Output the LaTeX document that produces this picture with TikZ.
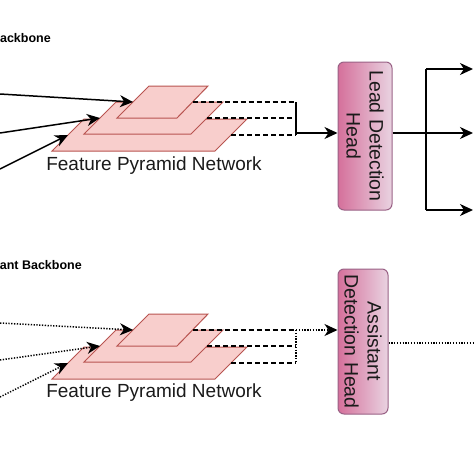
\documentclass[tikz,border=0pt]{standalone}
\usepackage{fontspec}
\setmainfont{Liberation Sans}
\usetikzlibrary{arrows.meta}
\definecolor{pyrfill}{HTML}{F8CECC}
\definecolor{pyrline}{HTML}{B85450}
\definecolor{headlight}{HTML}{E9D3E1}
\definecolor{headdark}{HTML}{D5709B}
\definecolor{headline}{HTML}{996185}
\definecolor{txt}{HTML}{1A1A1A}
\begin{document}
\begin{tikzpicture}[x=1pt,y=-1pt,
  layer/.style={fill=pyrfill, draw=pyrline, line width=1pt, line join=miter},
  link/.style={line width=1.5pt, draw=black},
  arr/.style={link, -{Stealth[length=13pt,width=12pt,inset=4pt]}},
  dashlink/.style={link, dash pattern=on 5pt off 3pt},
  dotlink/.style={link, dash pattern=on 1.3pt off 1.5pt},
  dotarr/.style={dotlink, -{Stealth[length=13pt,width=12pt,inset=4pt]}},
  headbox/.style={draw=headline, line width=1pt, rounded corners=6pt, rotate=-90,
    left color=headdark, right color=headlight, align=center,
    font=\fontsize{19.5}{23}\selectfont, text=txt, inner sep=0pt},
  fpnlabel/.style={font=\fontsize{19}{23}\selectfont, text=txt, inner sep=0pt},
  bbtitle/.style={font=\fontsize{12.5}{15}\selectfont\bfseries, text=black, inner sep=0pt, anchor=east}
]
\useasboundingbox (0,0) rectangle (474,474);

% ---------------- top section ----------------
\node[bbtitle] (bbA) at (51,38) {ackbone};
\draw[layer] (52,151) -- (215,151) -- (247,119) -- (84,119) -- cycle;
\draw[layer] (84,134) -- (191,134) -- (223,102) -- (116,102) -- cycle;
\draw[layer] (117,118) -- (177,118) -- (208,86) -- (149,86) -- cycle;
\coordinate (aL1) at (133,102);
\coordinate (aL2) at (100,118);
\coordinate (aL3) at (68,135);
\coordinate (aR1) at (192.5,102);
\coordinate (aR2) at (207,118);
\coordinate (aR3) at (231,135);
\coordinate (aJ1) at (296,102);
\coordinate (aJ2) at (296,118);
\coordinate (aJ3) at (296,135);
\coordinate (aJ) at (296,133);
\coordinate (aT1) at (0,94);
\coordinate (aT2) at (0,133);
\coordinate (aT3) at (0,169);
\node[fpnlabel] (fpnA) at (154,166) {Feature Pyramid Network};

\draw[dashlink] (aR1) -- (aJ1);
\draw[dashlink] (aR2) -- (aJ2);
\draw[dashlink] (aR3) -- (aJ3);
\draw[link] (aJ1) -- (aJ3);

\draw[arr] (aT1) -- (aL1);
\draw[arr] (aT2) -- (aL2);
\draw[arr] (aT3) -- (aL3);

\node[headbox, minimum width=148pt, minimum height=54pt] (lead) at (365,136) {Lead Detection\\Head};
\draw[arr] (aJ) -- (aJ -| lead.south);

\coordinate (oS) at (426,133);
\coordinate (oT) at (426,69);
\coordinate (oB) at (426,210);
\coordinate (eT) at (473,69);
\coordinate (eM) at (473,133);
\coordinate (eB) at (473,210);
\draw[link] (oS -| lead.north) -- (oS);
\draw[arr] (oS) -- (eM);
\draw[link] (oT) -- (oB);
\draw[arr] (oT) -- (eT);
\draw[arr] (oB) -- (eB);

% ---------------- bottom section ----------------
\node[bbtitle] (bbB) at (82,265) {ant Backbone};
\draw[layer] (52,379) -- (215,379) -- (247,347) -- (84,347) -- cycle;
\draw[layer] (84,362) -- (191,362) -- (223,330) -- (116,330) -- cycle;
\draw[layer] (117,346) -- (177,346) -- (208,314) -- (149,314) -- cycle;
\coordinate (bL1) at (133,330);
\coordinate (bL2) at (100,346);
\coordinate (bL3) at (68,363);
\coordinate (bR1) at (192.5,330);
\coordinate (bR2) at (207,346);
\coordinate (bR3) at (231,363);
\coordinate (bJ1) at (296,330);
\coordinate (bJ2) at (296,346);
\coordinate (bJ3) at (296,363);
\coordinate (bT1) at (0,323);
\coordinate (bT2) at (0,360);
\coordinate (bT3) at (0,397);
\node[fpnlabel] (fpnB) at (154,393) {Feature Pyramid Network};

\draw[dashlink] (bR1) -- (bJ1);
\draw[dashlink] (bR2) -- (bJ2);
\draw[dashlink] (bR3) -- (bJ3);
\draw[dotlink] (bJ1) -- (bJ3);

\draw[dotarr] (bT1) -- (bL1);
\draw[dotarr] (bT2) -- (bL2);
\draw[dotarr] (bT3) -- (bL3);

\node[headbox, minimum width=145pt, minimum height=50pt] (assist) at (363,341.5) {Assistant\\Detection Head};
\draw[dotarr] (bJ1) -- (bJ1 -| assist.south);
\coordinate (bO) at (474,343);
\draw[dotlink] (bO -| assist.north) -- (bO);
\end{tikzpicture}
\end{document}
